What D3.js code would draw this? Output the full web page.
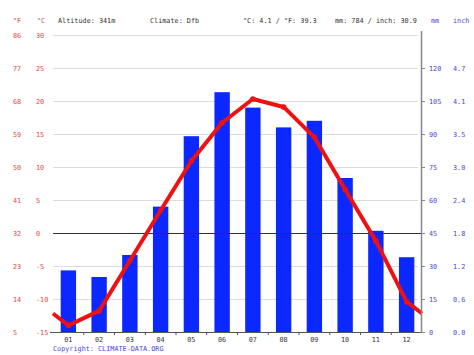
<!DOCTYPE html>
<html><head><meta charset="utf-8">
<script src="https://cdn.jsdelivr.net/npm/d3@7/dist/d3.min.js"></script>
<style>html,body{margin:0;padding:0;background:#fff;}svg{display:block;}text{font-family:"DejaVu Sans Mono",monospace;font-size:6.8px;}</style>
</head><body>
<script>
const months = ["01","02","03","04","05","06","07","08","09","10","11","12"];
const precipMM = [28, 25, 35, 57, 89, 109, 102, 93, 96, 70, 46, 34];
const tempC = [-14.0, -11.8, -4.2, 3.4, 10.9, 16.7, 20.3, 19.1, 14.5, 6.6, -1.2, -10.4];
const tempTicksC = [-15, -10, -5, 0, 5, 10, 15, 20, 25, 30];
const tempTicksF = ["5","14","23","32","41","50","59","68","77","86"];
const precipTicksMM = [0, 15, 30, 45, 60, 75, 90, 105, 120];
const precipTicksIn = ["0.0","0.6","1.2","1.8","2.4","3.0","3.5","4.1","4.7"];
const header = {alt:"Altitude: 341m", clim:"Climate: Dfb", temp:"°C: 4.1 / °F: 39.3", prec:"mm: 784 / inch: 30.9"};

const W = 474, H = 355;
const L = 53, R = 422, T = 35, B = 332;
const svg = d3.select("body").append("svg").attr("width", W).attr("height", H);

const x = d3.scaleBand().domain(months).range([L, R]).paddingInner(0.5).paddingOuter(0.25);
const yT = d3.scaleLinear().domain([-15, 30]).range([B, T]);
const yP = d3.scaleLinear().domain([0, 135]).range([B, T]);

const red = "#e04848", blue = "#4848d8";

// gridlines
svg.append("g").selectAll("line").data(tempTicksC.filter(d => d !== -15 && d !== 0)).join("line")
  .attr("x1", L).attr("x2", R - 4).attr("y1", d => Math.round(yT(d)) + 0.5).attr("y2", d => Math.round(yT(d)) + 0.5)
  .attr("stroke", "#dcdcdc").attr("stroke-width", 1);

// bars
svg.append("g").selectAll("rect").data(months).join("rect")
  .attr("x", d => x(d)).attr("width", x.bandwidth())
  .attr("y", (d, i) => yP(precipMM[i])).attr("height", (d, i) => yP(0) - yP(precipMM[i]))
  .attr("fill", "#0a28ff");

// zero line
svg.append("line").attr("x1", L).attr("x2", R).attr("y1", Math.round(yT(0)) + 0.5).attr("y2", Math.round(yT(0)) + 0.5)
  .attr("stroke", "#333").attr("stroke-width", 1.2);

// temperature line with wrap-around ends
const edge = (tempC[0] + tempC[11]) / 2;
const pts = [[L, yT(edge)]].concat(months.map((m, i) => [x(m) + x.bandwidth() / 2, yT(tempC[i])])).concat([[R, yT(edge)]]);
svg.append("path").attr("d", d3.line()(pts)).attr("fill", "none").attr("stroke", "#ee1111")
  .attr("stroke-width", 4).attr("stroke-linejoin", "round");
svg.append("g").selectAll("circle").data(months).join("circle")
  .attr("cx", d => x(d) + x.bandwidth() / 2).attr("cy", (d, i) => yT(tempC[i])).attr("r", 2.8).attr("fill", "#ee1111");

// bottom axis
svg.append("line").attr("x1", L - 3).attr("x2", R).attr("y1", B + 0.5).attr("y2", B + 0.5).attr("stroke", "#555").attr("stroke-width", 1);
svg.append("g").selectAll("line").data(d3.range(1, 12)).join("line")
  .attr("x1", i => L + i * x.step()).attr("x2", i => L + i * x.step()).attr("y1", B).attr("y2", B + 3)
  .attr("stroke", "#555");
svg.append("g").selectAll("text").data(months).join("text")
  .attr("x", d => x(d) + x.bandwidth() / 2).attr("y", 341.5).attr("text-anchor", "middle").attr("fill", "#333").text(d => d);

// right axis
svg.append("line").attr("x1", 421.5).attr("x2", 421.5).attr("y1", 31).attr("y2", B + 1).attr("stroke", "#888").attr("stroke-width", 1.5);
svg.append("g").selectAll("line").data(precipTicksMM).join("line")
  .attr("x1", 422).attr("x2", 425).attr("y1", d => Math.round(yP(d)) + 0.5).attr("y2", d => Math.round(yP(d)) + 0.5).attr("stroke", "#888");
svg.append("g").selectAll("text").data(precipTicksMM).join("text")
  .attr("x", 429).attr("y", d => yP(d) + 2.5).attr("fill", blue).text(d => d);
svg.append("g").selectAll("text").data(precipTicksIn).join("text")
  .attr("x", 453).attr("y", (d, i) => yP(precipTicksMM[i]) + 2.5).attr("fill", blue).text(d => d);

// left axis
svg.append("g").selectAll("text").data(tempTicksC).join("text")
  .attr("x", 36).attr("y", d => yT(d) + 2.5).attr("fill", red).text(d => d);
svg.append("g").selectAll("text").data(tempTicksF).join("text")
  .attr("x", 13).attr("y", (d, i) => yT(tempTicksC[i]) + 2.5).attr("fill", red).text(d => d);

// header
svg.append("text").attr("x", 13).attr("y", 23).attr("fill", red).text("°F");
svg.append("text").attr("x", 37).attr("y", 23).attr("fill", red).text("°C");
svg.append("text").attr("x", 58).attr("y", 23).attr("fill", "#333").text(header.alt);
svg.append("text").attr("x", 150).attr("y", 23).attr("fill", "#333").text(header.clim);
svg.append("text").attr("x", 243).attr("y", 23).attr("fill", "#333").text(header.temp);
svg.append("text").attr("x", 335).attr("y", 23).attr("fill", "#333").text(header.prec);
svg.append("text").attr("x", 431).attr("y", 23).attr("fill", blue).text("mm");
svg.append("text").attr("x", 453).attr("y", 23).attr("fill", blue).text("inch");

// copyright
svg.append("text").attr("x", 53).attr("y", 351).attr("fill", blue).text("Copyright: CLIMATE-DATA.ORG");
</script>
</body></html>
